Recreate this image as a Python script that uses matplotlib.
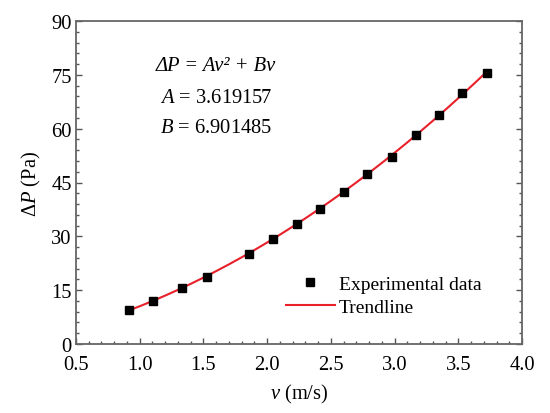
import matplotlib
matplotlib.use('Agg')
import matplotlib.pyplot as plt
from matplotlib.ticker import MultipleLocator
import numpy as np

v = [0.915, 1.103, 1.331, 1.529, 1.859, 2.047, 2.231, 2.418, 2.602,
     2.787, 2.979, 3.166, 3.348, 3.532, 3.722]
dp = [9.5, 12.1, 15.7, 18.8, 25.1, 29.3, 33.3, 37.7, 42.4,
      47.3, 52.2, 58.2, 63.9, 70.0, 75.5]

# fitted coefficients shown on the chart
A = 3.619157
B = 6.901485

plt.rcParams['font.family'] = ['Liberation Serif', 'DejaVu Serif']
plt.rcParams['mathtext.fontset'] = 'custom'
plt.rcParams['mathtext.rm'] = 'Liberation Serif'
plt.rcParams['mathtext.it'] = 'Liberation Serif:italic'
plt.rcParams['mathtext.bf'] = 'Liberation Serif:bold'

fs = 14.8

fig = plt.figure(figsize=(5.5, 4.14), dpi=100)
ax = fig.add_axes([76/550, 1 - 345/414, 446/550, 323/414])

vv = np.linspace(min(v), max(v), 200)
ax.plot(vv, A*vv**2 + B*vv, color='#e8202a', lw=1.5, label='Trendline', zorder=2)
ax.plot(v, dp, 's', color='black', ms=5.5, label='Experimental data', zorder=3)

ax.set_xlim(0.5, 4.0)
ax.set_ylim(0, 90)
ax.xaxis.set_major_locator(MultipleLocator(0.5))
ax.xaxis.set_minor_locator(MultipleLocator(0.1))
ax.yaxis.set_major_locator(MultipleLocator(15))
ax.yaxis.set_minor_locator(MultipleLocator(3))
ax.xaxis.set_major_formatter(plt.FormatStrFormatter('%.1f'))

ax.tick_params(which='both', direction='in', right=True, top=False,
               colors='#555555', labelcolor='black', labelsize=fs)
ax.tick_params(which='major', length=4, width=1)
ax.tick_params(which='minor', length=2.5, width=1)
ax.tick_params(axis='x', pad=8)
ax.tick_params(axis='y', pad=3)
for s in ax.spines.values():
    s.set_color('#666666')
    s.set_linewidth(1.3)

ax.set_xlabel(r'$v$ (m/s)', fontsize=fs, labelpad=6)
ax.set_ylabel(r'$\Delta P$ (Pa)', fontsize=fs, labelpad=6)

ax.text(1.6, 77.6, 'ΔP = Av² + Bv', style='italic', ha='center', va='center', fontsize=fs)
ax.text(1.6, 68.6, r'$A$ = 3.619157', ha='center', va='center', fontsize=fs)
ax.text(1.6, 60.2, r'$B$ = 6.901485', ha='center', va='center', fontsize=fs)

h, l = ax.get_legend_handles_labels()
ax.legend(h[::-1], l[::-1], loc='lower right', bbox_to_anchor=(0.948, 0.032),
          frameon=False, fontsize=14, handlelength=2.5, handletextpad=0.2,
          labelspacing=0.3, numpoints=1, markerscale=1.0)

fig.savefig('out.png', dpi=100)
